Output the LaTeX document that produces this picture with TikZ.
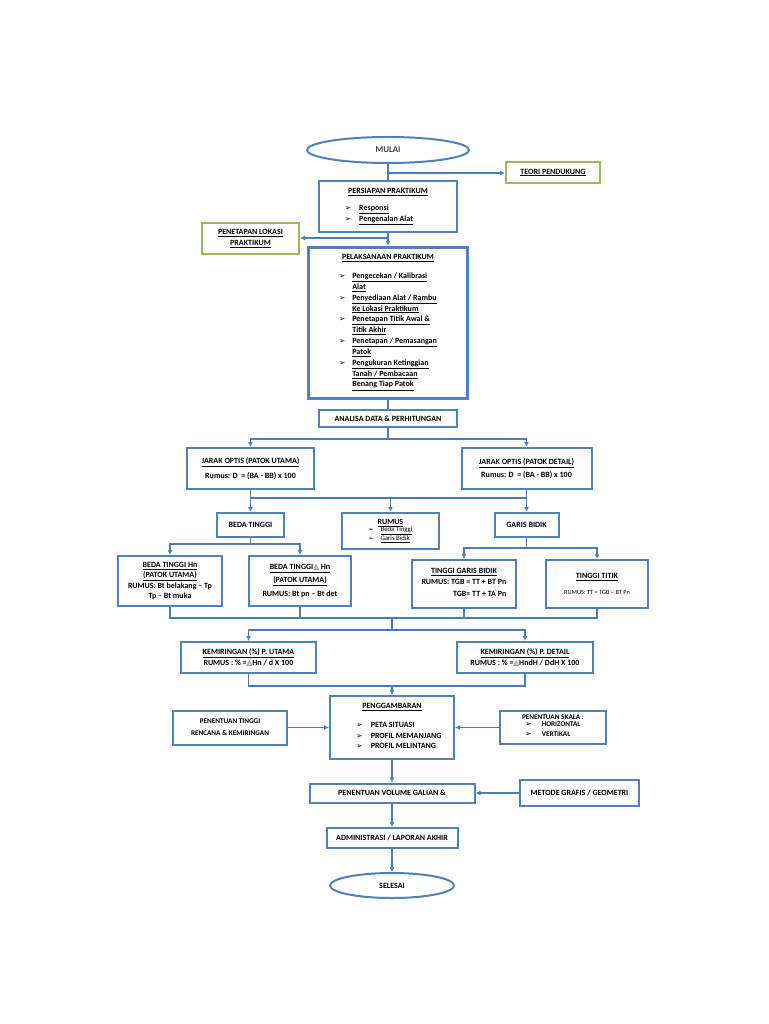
\documentclass[tikz,border=0pt]{standalone}
\usepackage{fontspec}
\setmainfont{Carlito}
\newfontfamily\symf{DejaVu Sans}
\usetikzlibrary{shapes.geometric,arrows.meta}
\definecolor{boxblue}{RGB}{79,129,189}
\definecolor{boxgreen}{RGB}{155,187,89}
\definecolor{lineblue}{RGB}{74,126,187}
\newcommand{\bul}{{\symf\fontsize{7.5}{7.5}\selectfont ➢}}
\newcommand{\dlt}{{\symf\fontsize{7.5}{7.5}\selectfont\rlap{\textcolor{gray!45}{▲}}\textcolor{gray!80!black}{△}}}

\begin{document}
\begin{tikzpicture}[x=1pt,y=-1pt,
    every node/.style={font=\fontsize{8}{10.5}\selectfont\bfseries, align=center, inner sep=0pt},
    blok/.style={draw=boxblue, line width=2pt},
    gblok/.style={draw=boxgreen, line width=2pt},
    elips/.style={ellipse, draw=boxblue, line width=2pt},
    link/.style={draw=lineblue, line width=1.8pt},
    >={Latex[length=5pt,width=5pt]}]
        \fill[white] (0,0) rectangle (768,1024);

        % top part
        \node[elips, minimum width=162, minimum height=26, font=\fontsize{9}{10}\selectfont] (mulai) at (388,150) {MULAI};
        \node[gblok, minimum width=94, minimum height=21] (teori) at (553,172.5) {\underline{TEORI PENDUKUNG}};
        \node[blok, minimum width=138, minimum height=51] (persiapan) at (388,206.5) {\underline{PERSIAPAN PRAKTIKUM}\\[7pt]
            \begin{tabular}{@{}l@{\hspace{8pt}}l@{\hspace{18pt}}}
            \bul & \underline{Responsi}\\
            \bul & \underline{Pengenalan Alat}
            \end{tabular}};
        \node[gblok, minimum width=97, minimum height=31] (lokasi) at (250.5,238.5) {\underline{PENETAPAN LOKASI}\\\underline{PRAKTIKUM}};
        \node[blok, line width=3pt, minimum width=159, minimum height=151, font=\fontsize{8}{10.8}\selectfont\bfseries] (pelaksanaan) at (388,322.5) {\underline{PELAKSANAAN PRAKTIKUM}\\[8pt]
            \begin{tabular}{@{}l@{\hspace{7pt}}l@{}}
            \bul & \underline{Pengecekan / Kalibrasi}\\
                 & \underline{Alat}\\
            \bul & \underline{Penyediaan Alat / Rambu}\\
                 & \underline{Ke Lokasi Praktikum}\\
            \bul & \underline{Penetapan Titik Awal \&}\\
                 & \underline{Titik Akhir}\\
            \bul & \underline{Penetapan / Pemasangan}\\
                 & \underline{Patok}\\
            \bul & \underline{Pengukuran Ketinggian}\\
                 & \underline{Tanah / Pembacaan}\\
                 & \underline{Benang Tiap Patok}
            \end{tabular}};
        \node[blok, minimum width=138, minimum height=17] (analisa) at (388,418.5) {ANALISA DATA \& PERHITUNGAN};

        % jarak optis
        \node[blok, minimum width=127, minimum height=41] (jarakU) at (250.5,468.5) {\underline{JARAK OPTIS (PATOK UTAMA)}\\[5pt]Rumus: D\ \ = (BA - BB) x 100};
        \node[blok, minimum width=130, minimum height=41] (jarakD) at (526.5,468.5) {\underline{JARAK OPTIS (PATOK DETAIL)}\\[2pt]Rumus: D\ \ = (BA - BB) x 100};

        % beda tinggi, rumus, garis bidik
        \node[blok, minimum width=67, minimum height=24] (beda) at (250.5,525) {BEDA TINGGI};
        \node[blok, minimum width=97, minimum height=36] (rumus) at (390.5,531) {\underline{RUMUS}\\[-2pt]
            {\fontsize{6.8}{8.5}\selectfont\mdseries
            \begin{tabular}{@{}l@{\hspace{7pt}}l@{}}
            {\symf\fontsize{6}{6}\selectfont ➢} & \underline{Beda Tinggi}\\
            {\symf\fontsize{6}{6}\selectfont ➢} & \underline{Garis Bidik}
            \end{tabular}}};
        \node[blok, minimum width=64, minimum height=24] (garis) at (526.5,525) {GARIS BIDIK};

        \node[blok, minimum width=104, minimum height=50, font=\fontsize{8}{10.3}\selectfont\bfseries] (bedaHn) at (170,581) {\underline{BEDA TINGGI Hn}\\\underline{(PATOK UTAMA)}\\RUMUS: Bt belakang -- Tp\\Tp -- Bt muka};
        \node[blok, minimum width=102, minimum height=50] (bedaD) at (300,581) {\underline{BEDA TINGGI\dlt\ Hn}\\[3pt]\underline{(PATOK UTAMA)}\\[3pt]RUMUS: Bt pn -- Bt det};
        \node[blok, minimum width=104, minimum height=48, font=\fontsize{8}{11.5}\selectfont\bfseries] (tgb) at (464,584) {\underline{TINGGI GARIS BIDIK}\\
            \begin{tabular}{@{}r@{}}
            RUMUS: TGB = TT + BT Pn\\
            TGB= TT + TA Pn
            \end{tabular}};
        \node[blok, minimum width=102, minimum height=48] (tt) at (597,584) {\underline{TINGGI TITIK}\\[5pt]{\mdseries\fontsize{6.3}{8}\selectfont RUMUS: TT = TGB -- BT Pn}};

        % kemiringan
        \node[blok, minimum width=135, minimum height=31] (kemU) at (248.5,657.5) {\underline{KEMIRINGAN (\%) P. UTAMA}\\RUMUS : \% =\dlt Hn / d X 100};
        \node[blok, minimum width=136, minimum height=31] (kemD) at (525,657.5) {\underline{KEMIRINGAN (\%) P. DETAIL}\\RUMUS : \% =\dlt HndH / DdH X 100};

        % penggambaran
        \node[blok, minimum width=124, minimum height=63] (gambar) at (392,727.5) {\underline{PENGGAMBARAN}\\[8.5pt]
            \begin{tabular}{@{\hspace{14pt}}l@{\hspace{8pt}}l@{}}
            \bul & PETA SITUASI\\
            \bul & PROFIL MEMANJANG\\
            \bul & PROFIL MELINTANG
            \end{tabular}};
        \node[blok, minimum width=114, minimum height=34, font=\fontsize{7.2}{10.5}\selectfont\bfseries] (tinggiR) at (230,727.5) {PENENTUAN TINGGI\\[1.5pt]RENCANA \& KEMIRINGAN};
        \node[blok, minimum width=106, minimum height=33, font=\fontsize{7.2}{10}\selectfont\bfseries] (skala) at (553,727.5) {PENENTUAN SKALA :\\[-1pt]
            \begin{tabular}{@{}l@{\hspace{10pt}}l@{}}
            \bul & HORIZONTAL\\
            \bul & VERTIKAL
            \end{tabular}};

        % bottom part
        \node[blok, minimum width=165, minimum height=19] (volume) at (392,793) {PENENTUAN VOLUME GALIAN \&};
        \node[blok, minimum width=119, minimum height=26] (metode) at (579.5,793) {METODE GRAFIS / GEOMETRI};
        \node[blok, minimum width=131, minimum height=20] (admin) at (392,838) {ADMINISTRASI / LAPORAN AKHIR};
        \node[elips, minimum width=124, minimum height=25, font=\fontsize{8}{9}\selectfont\bfseries] (selesai) at (392,885.5) {SELESAI};

        % junctions
        \coordinate (jteori) at (388,173);
        \coordinate (jlokasi) at (388,238);
        \coordinate (j1) at (388,439);
        \coordinate (j2) at (390.5,498);
        \coordinate (j3) at (250.5,544);
        \coordinate (j4) at (526.5,548);
        \coordinate (j5) at (392,618);
        \coordinate (j6) at (392,630);
        \coordinate (j7) at (392,686);

        % connectors
        \draw[link] (mulai) -- (persiapan);
        \draw[link,->] (jteori) -- (jteori -| teori.west);
        \draw[link,->] (jlokasi) -- (jlokasi -| lokasi.east);
        \draw[link,->] (persiapan) -- (pelaksanaan);
        \draw[link] (pelaksanaan) -- (analisa);
        \draw[link] (analisa) -- (j1);
        \draw[link,->] (j1) -| (jarakU);
        \draw[link,->] (j1) -| (jarakD);
        \draw[link] (jarakU) |- (j2) -| (jarakD);
        \draw[link,->] (j2) -- (rumus);
        \draw[link,->] (jarakU |- j2) -- (beda);
        \draw[link,->] (jarakD |- j2) -- (garis);
        \draw[link] (beda) -- (j3);
        \draw[link,->] (j3) -| (bedaHn);
        \draw[link,->] (j3) -| (bedaD);
        \draw[link] (garis) -- (j4);
        \draw[link,->] (j4) -| (tgb);
        \draw[link,->] (j4) -| (tt);
        \draw[link] (bedaHn) |- (j5) -| (tt);
        \draw[link] (bedaD) -- (bedaD |- j5);
        \draw[link] (tgb) -- (tgb |- j5);
        \draw[link] (j5) -- (j6);
        \draw[link,->] (j6) -| (kemU);
        \draw[link,->] (j6) -| (kemD);
        \draw[link] (kemU) |- (j7) -| (kemD);
        \draw[link,->] (j7) -- (gambar);
        \draw[link,->] (tinggiR) -- (gambar);
        \draw[link,->] (skala) -- (gambar);
        \draw[link,->] (gambar) -- (volume);
        \draw[link,->] (metode) -- (volume);
        \draw[link,->] (volume) -- (admin);
        \draw[link,->] (admin) -- (selesai);
    \end{tikzpicture}
\end{document}
